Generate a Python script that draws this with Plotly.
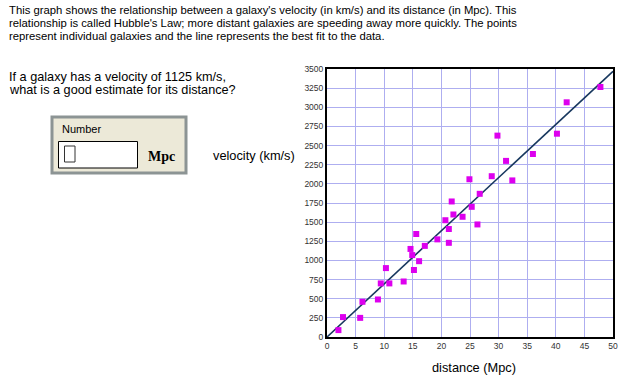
import plotly.graph_objects as go

# ---- data ----
distance = [2.0, 2.8, 5.8, 6.2, 8.9, 9.4, 10.3, 10.9, 13.4, 14.6, 14.9, 15.2, 15.6,
            16.1, 17.1, 19.3, 20.7, 21.3, 21.3, 21.8, 22.1, 23.7, 24.9, 25.3, 26.3,
            26.7, 28.8, 29.8, 31.3, 32.4, 36.0, 40.2, 41.9, 47.8]
velocity = [90, 260, 250, 460, 490, 700, 900, 700, 725, 1150, 1070, 875, 1345,
            990, 1190, 1275, 1525, 1410, 1230, 1770, 1600, 1570, 2060, 1700, 1470,
            1870, 2100, 2630, 2300, 2045, 2390, 2655, 3065, 3265]
fit_distance = [0, 50]
fit_velocity = [0, 3470]
x_ticks = [0, 5, 10, 15, 20, 25, 30, 35, 40, 45, 50]
y_ticks = list(range(0, 3501, 250))

intro_lines = [
    "This graph shows the relationship between a galaxy's velocity (in km/s) and its distance (in Mpc). This",
    "relationship is called Hubble's Law; more distant galaxies are speeding away more quickly. The points",
    "represent individual galaxies and the line represents the best fit to the data.",
]
question_lines = [
    "If a galaxy has a velocity of 1125 km/s,",
    "what is a good estimate for its distance?",
]

W, H = 634, 391
L, R, T, B = 327, 21, 69, 54
PW, PH = W - L - R, H - T - B

def px(x):
    return (x - L) / PW

def py(y):
    return (H - B - y) / PH

FONT = "Arial, Liberation Sans, sans-serif"

fig = go.Figure()
fig.add_trace(go.Scatter(x=fit_distance, y=fit_velocity, mode="lines",
                         line=dict(color="#17375e", width=1.6),
                         hoverinfo="skip", showlegend=False))
fig.add_trace(go.Scatter(x=distance, y=velocity, mode="markers",
                         marker=dict(symbol="square", size=6, color="#dd00ee",
                                     line=dict(width=0)),
                         showlegend=False))

annotations = []
for i, t in enumerate(intro_lines):
    annotations.append(dict(text=t, x=px(7), y=py(10 + 12.8 * i), xref="paper", yref="paper",
                            xanchor="left", yanchor="middle", align="left", showarrow=False,
                            font=dict(family=FONT, size=11.3, color="#000")))
for i, t in enumerate(question_lines):
    annotations.append(dict(text=t, x=px(7), y=py(77 + 13 * i), xref="paper", yref="paper",
                            xanchor="left", yanchor="middle", align="left", showarrow=False,
                            font=dict(family=FONT, size=12.7, color="#000")))
annotations += [
    dict(text="Number", x=px(60), y=py(129), xref="paper", yref="paper",
         xanchor="left", yanchor="middle", showarrow=False,
         font=dict(family=FONT, size=11, color="#000")),
    dict(text="<b>Mpc</b>", x=px(161), y=py(156), xref="paper", yref="paper",
         xanchor="center", yanchor="middle", showarrow=False,
         font=dict(family="Times New Roman, Liberation Serif, serif", size=14, color="#000")),
    dict(text="velocity (km/s)", x=px(254), y=py(155), xref="paper", yref="paper",
         xanchor="center", yanchor="middle", showarrow=False,
         font=dict(family=FONT, size=12.8, color="#000")),
    dict(text="distance (Mpc)", x=px(474), y=py(367), xref="paper", yref="paper",
         xanchor="center", yanchor="middle", showarrow=False,
         font=dict(family=FONT, size=12.8, color="#000")),
]

shapes = [
    dict(type="rect", xref="paper", yref="paper", x0=px(52), x1=px(186), y0=py(173), y1=py(117),
         fillcolor="#ece9d8", line=dict(color="#8c9494", width=3), layer="below"),
    dict(type="rect", xref="paper", yref="paper", x0=px(58.5), x1=px(137.5), y0=py(168), y1=py(141.5),
         fillcolor="#ffffff", line=dict(color="#000000", width=1), layer="below"),
    dict(type="rect", xref="paper", yref="paper", x0=px(64.5), x1=px(75), y0=py(162), y1=py(146),
         fillcolor="#ffffff", line=dict(color="#333333", width=1), layer="below"),
]

axis_common = dict(showgrid=True, gridcolor="#aeaef0", gridwidth=1, zeroline=False,
                   showline=True, linecolor="#000", linewidth=2, mirror=True,
                   ticks="", tickfont=dict(family=FONT, size=8.5, color="#333"))

fig.update_layout(
    width=W, height=H, margin=dict(l=L, r=R, t=T, b=B),
    paper_bgcolor="#fff", plot_bgcolor="#fff",
    xaxis=dict(range=[0, 50], tickvals=x_ticks, ticktext=[str(v) for v in x_ticks], **axis_common),
    yaxis=dict(range=[0, 3500], tickvals=y_ticks, ticktext=[str(v) for v in y_ticks], **axis_common),
    annotations=annotations, shapes=shapes, showlegend=False,
)

fig.write_html("out.html", config={"displayModeBar": False},
               post_script="document.body.style.margin='0';document.body.style.overflow='hidden';")
